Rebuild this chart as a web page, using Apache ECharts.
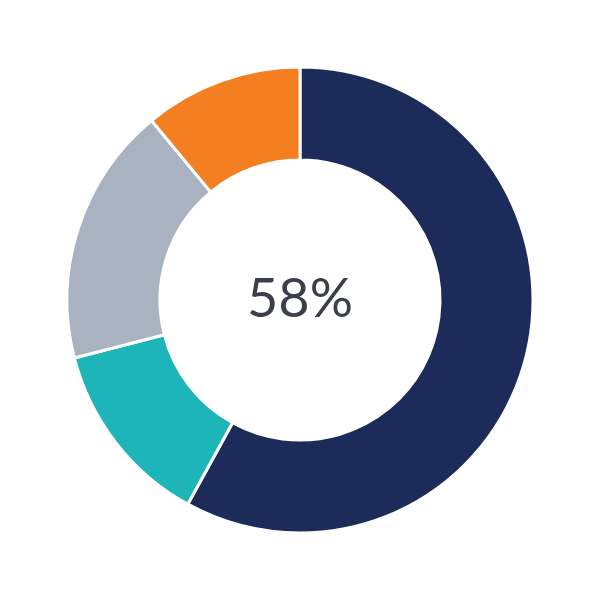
<!DOCTYPE html>
<html>
<head>
<meta charset="utf-8">
<script src="https://cdn.jsdelivr.net/npm/echarts@6/dist/echarts.min.js"></script>
<style>
  html, body { margin: 0; padding: 0; background: #fff; }
  #chart { width: 600px; height: 600px; }
</style>
</head>
<body>
<div id="chart"></div>
<script>
// 数据
var names = ['A', 'B', 'C', 'D'];
var values = [58, 13, 18, 11];
var colors = ['#1c2b5a', '#1db5b8', '#a8b2c0', '#f47f20'];
var centerLabel = '58%';

var data = names.map(function (n, i) {
    return { name: n, value: values[i], itemStyle: { color: colors[i] } };
});

var myChart = echarts.init(document.getElementById('chart'));
myChart.setOption({
    animation: false,
    title: {
        text: centerLabel,
        left: 'center',
        top: 'middle',
        textStyle: {
            fontFamily: 'Lato',
            fontWeight: 'normal',
            fontSize: 54,
            color: '#3a3f4a'
        }
    },
    series: [
        {
            type: 'pie',
            center: ['50%', '50%'],
            radius: [140, 233],
            startAngle: 90,
            clockwise: true,
            label: { show: false },
            labelLine: { show: false },
            itemStyle: { borderColor: '#fff', borderWidth: 3 },
            data: data
        }
    ]
});
</script>
</body>
</html>
